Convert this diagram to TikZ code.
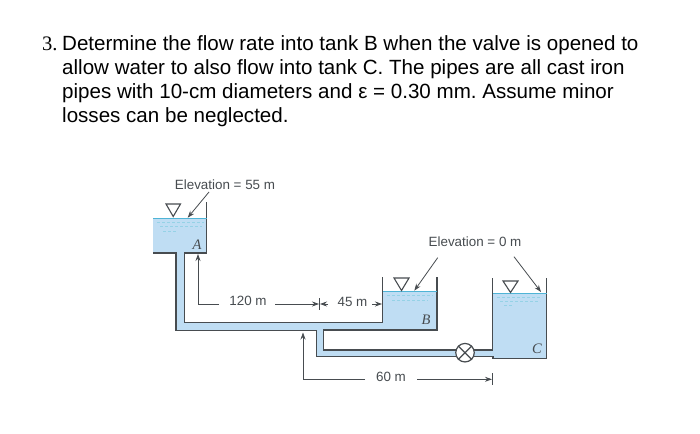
\documentclass[tikz,border=0pt]{standalone}
\usepackage{fontspec}
\setmainfont{Liberation Sans}
\newfontfamily\serifit{Liberation Serif}
\usetikzlibrary{arrows.meta}
\definecolor{water}{HTML}{BFDDF3}
\definecolor{surf}{HTML}{4FB4D6}
\definecolor{ink}{HTML}{474C50}
\tikzset{
  wall/.style={draw=ink,line width=1.1pt},
  dim/.style={draw=ink,line width=.8pt},
  dimarrow/.style={dim,-{Stealth[length=7pt,width=5pt]}},
  lab/.style={font=\fontsize{13.4}{15}\selectfont,text=ink,inner sep=0pt},
  tanklab/.style={font=\fontsize{14.5}{16}\selectfont\serifit\itshape,text=ink,inner sep=0pt},
  qtext/.style={font=\fontsize{20.57}{24}\selectfont\frenchspacing,text=black,inner sep=0pt,anchor=base west},
  tri/.style={draw=ink,line width=1.1pt,fill=white},
  wave/.style={draw=surf!60,line width=.8pt,dash pattern=on 3pt off 2pt}
}
\begin{document}
\begin{tikzpicture}[x=1pt,y=-1pt]
\useasboundingbox (0,0) rectangle (700,433);
\fill[white] (0,0) rectangle (700,433);
% question text
\node[qtext] (q1n) at (42,51) {\fontspec{Liberation Serif}3.};
\node[qtext] (q1) at (62,51) {Determine the flow rate into tank B when the valve is opened to};
\node[qtext] (q2) at (62,75) {allow water to also flow into tank C. The pipes are all cast iron};
\node[qtext] (q3) at (62,99) {pipes with 10-cm diameters and ε = 0.30 mm. Assume minor};
\node[qtext] (q4) at (62,122) {losses can be neglected.};
% water
\fill[water] (153,218) rectangle (206.7,253);
\fill[water] (176,253) rectangle (184.5,331);
\fill[water] (176,322.3) rectangle (383,330);
\fill[water] (383,291) rectangle (437,330);
\fill[water] (316.7,330) rectangle (323.3,356.7);
\fill[water] (316.7,350) rectangle (493,356.7);
\fill[water] (493,293) rectangle (546.7,358.7);
% walls
\draw[wall] (153,253) -- (176,253) -- (176,330.5) -- (316.7,330.5) -- (316.7,356.7) -- (493,356.7) -- (493,358.7) -- (546.7,358.7) -- (546.7,278);
\draw[wall] (206.7,202) -- (206.7,253) -- (184.5,253) -- (184.5,322.3) -- (382.7,322.3) -- (382.7,277);
\draw[wall] (437,277) -- (437,330) -- (323.3,330) -- (323.3,350) -- (492.7,350) -- (492.7,278);
% surfaces
\draw[surf,line width=1pt] (153,218) -- (206.7,218);
\draw[surf,line width=1pt] (383,291) -- (437,291);
\draw[surf,line width=1pt] (493,293) -- (546.7,293);
\draw[wave] (157,222) -- (204,222);
\draw[wave] (160,226) -- (202,226);
\draw[wave] (163,231) -- (176,231);
\draw[wave] (387,295) -- (433,295);
\draw[wave] (392,300) -- (428,300);
\draw[wave] (497,297) -- (542,297);
\draw[wave] (500,301) -- (540,301);
\draw[wave] (504,305) -- (512,305);
% triangles
\draw[tri] (166,204) -- (180.5,204) -- (173.2,216.5) -- cycle;
\draw[tri] (394,278) -- (409,278) -- (401.5,290.5) -- cycle;
\draw[tri] (503,281) -- (518,281) -- (510.5,292.5) -- cycle;
% valve
\node[circle,draw=ink,line width=1.2pt,fill=white,minimum size=18.5pt,inner sep=0pt] (valve) at (465,352.7) {};
\draw[ink,line width=1.2pt] (valve.north west) -- (valve.south east) (valve.north east) -- (valve.south west);
% labels
\node[lab] (ea) at (225,185) {Elevation = 55 m};
\node[lab] (e0) at (475,242) {Elevation = 0 m};
\node[lab] (l120) at (248,301) {120 m};
\node[lab] (l45) at (352.5,301.5) {45 m};
\node[lab] (l60) at (391,377) {60 m};
\node[tanklab] (ta) at (197,245) {A};
\node[tanklab] (tb) at (426,320) {B};
\node[tanklab] (tc) at (537,349) {C};
% leaders
\coordinate (ea1) at (209,192); \coordinate (ea2) at (187.7,217.7);
\coordinate (b1) at (437.7,257.7); \coordinate (b2) at (414.3,290.7);
\coordinate (c1) at (514,256.7); \coordinate (c2) at (541,292);
\draw[dimarrow] (ea1) -- (ea2);
\draw[dimarrow] (b1) -- (b2);
\draw[dimarrow] (c1) -- (c2);
% dimension lines
\coordinate (a120) at (198,254);
\coordinate (s120) at (219,304);
\coordinate (t45a) at (319.3,298);
\coordinate (t45b) at (319.3,310);
\draw[dimarrow] (s120) -- (198,304) -- (a120);
\draw[dimarrow] (275,304) -- (319,304);
\draw[dim] (t45a) -- (t45b);
\draw[dimarrow] (328,304) -- (320,304);
\draw[dimarrow] (372,304) -- (382,304);
\draw[dimarrow] (365,379.3) -- (303,379.3) -- (303,332.5);
\draw[dimarrow] (417,379.3) -- (492,379.3);
\draw[dim] (492.7,373) -- (492.7,385);
\end{tikzpicture}
\end{document}
